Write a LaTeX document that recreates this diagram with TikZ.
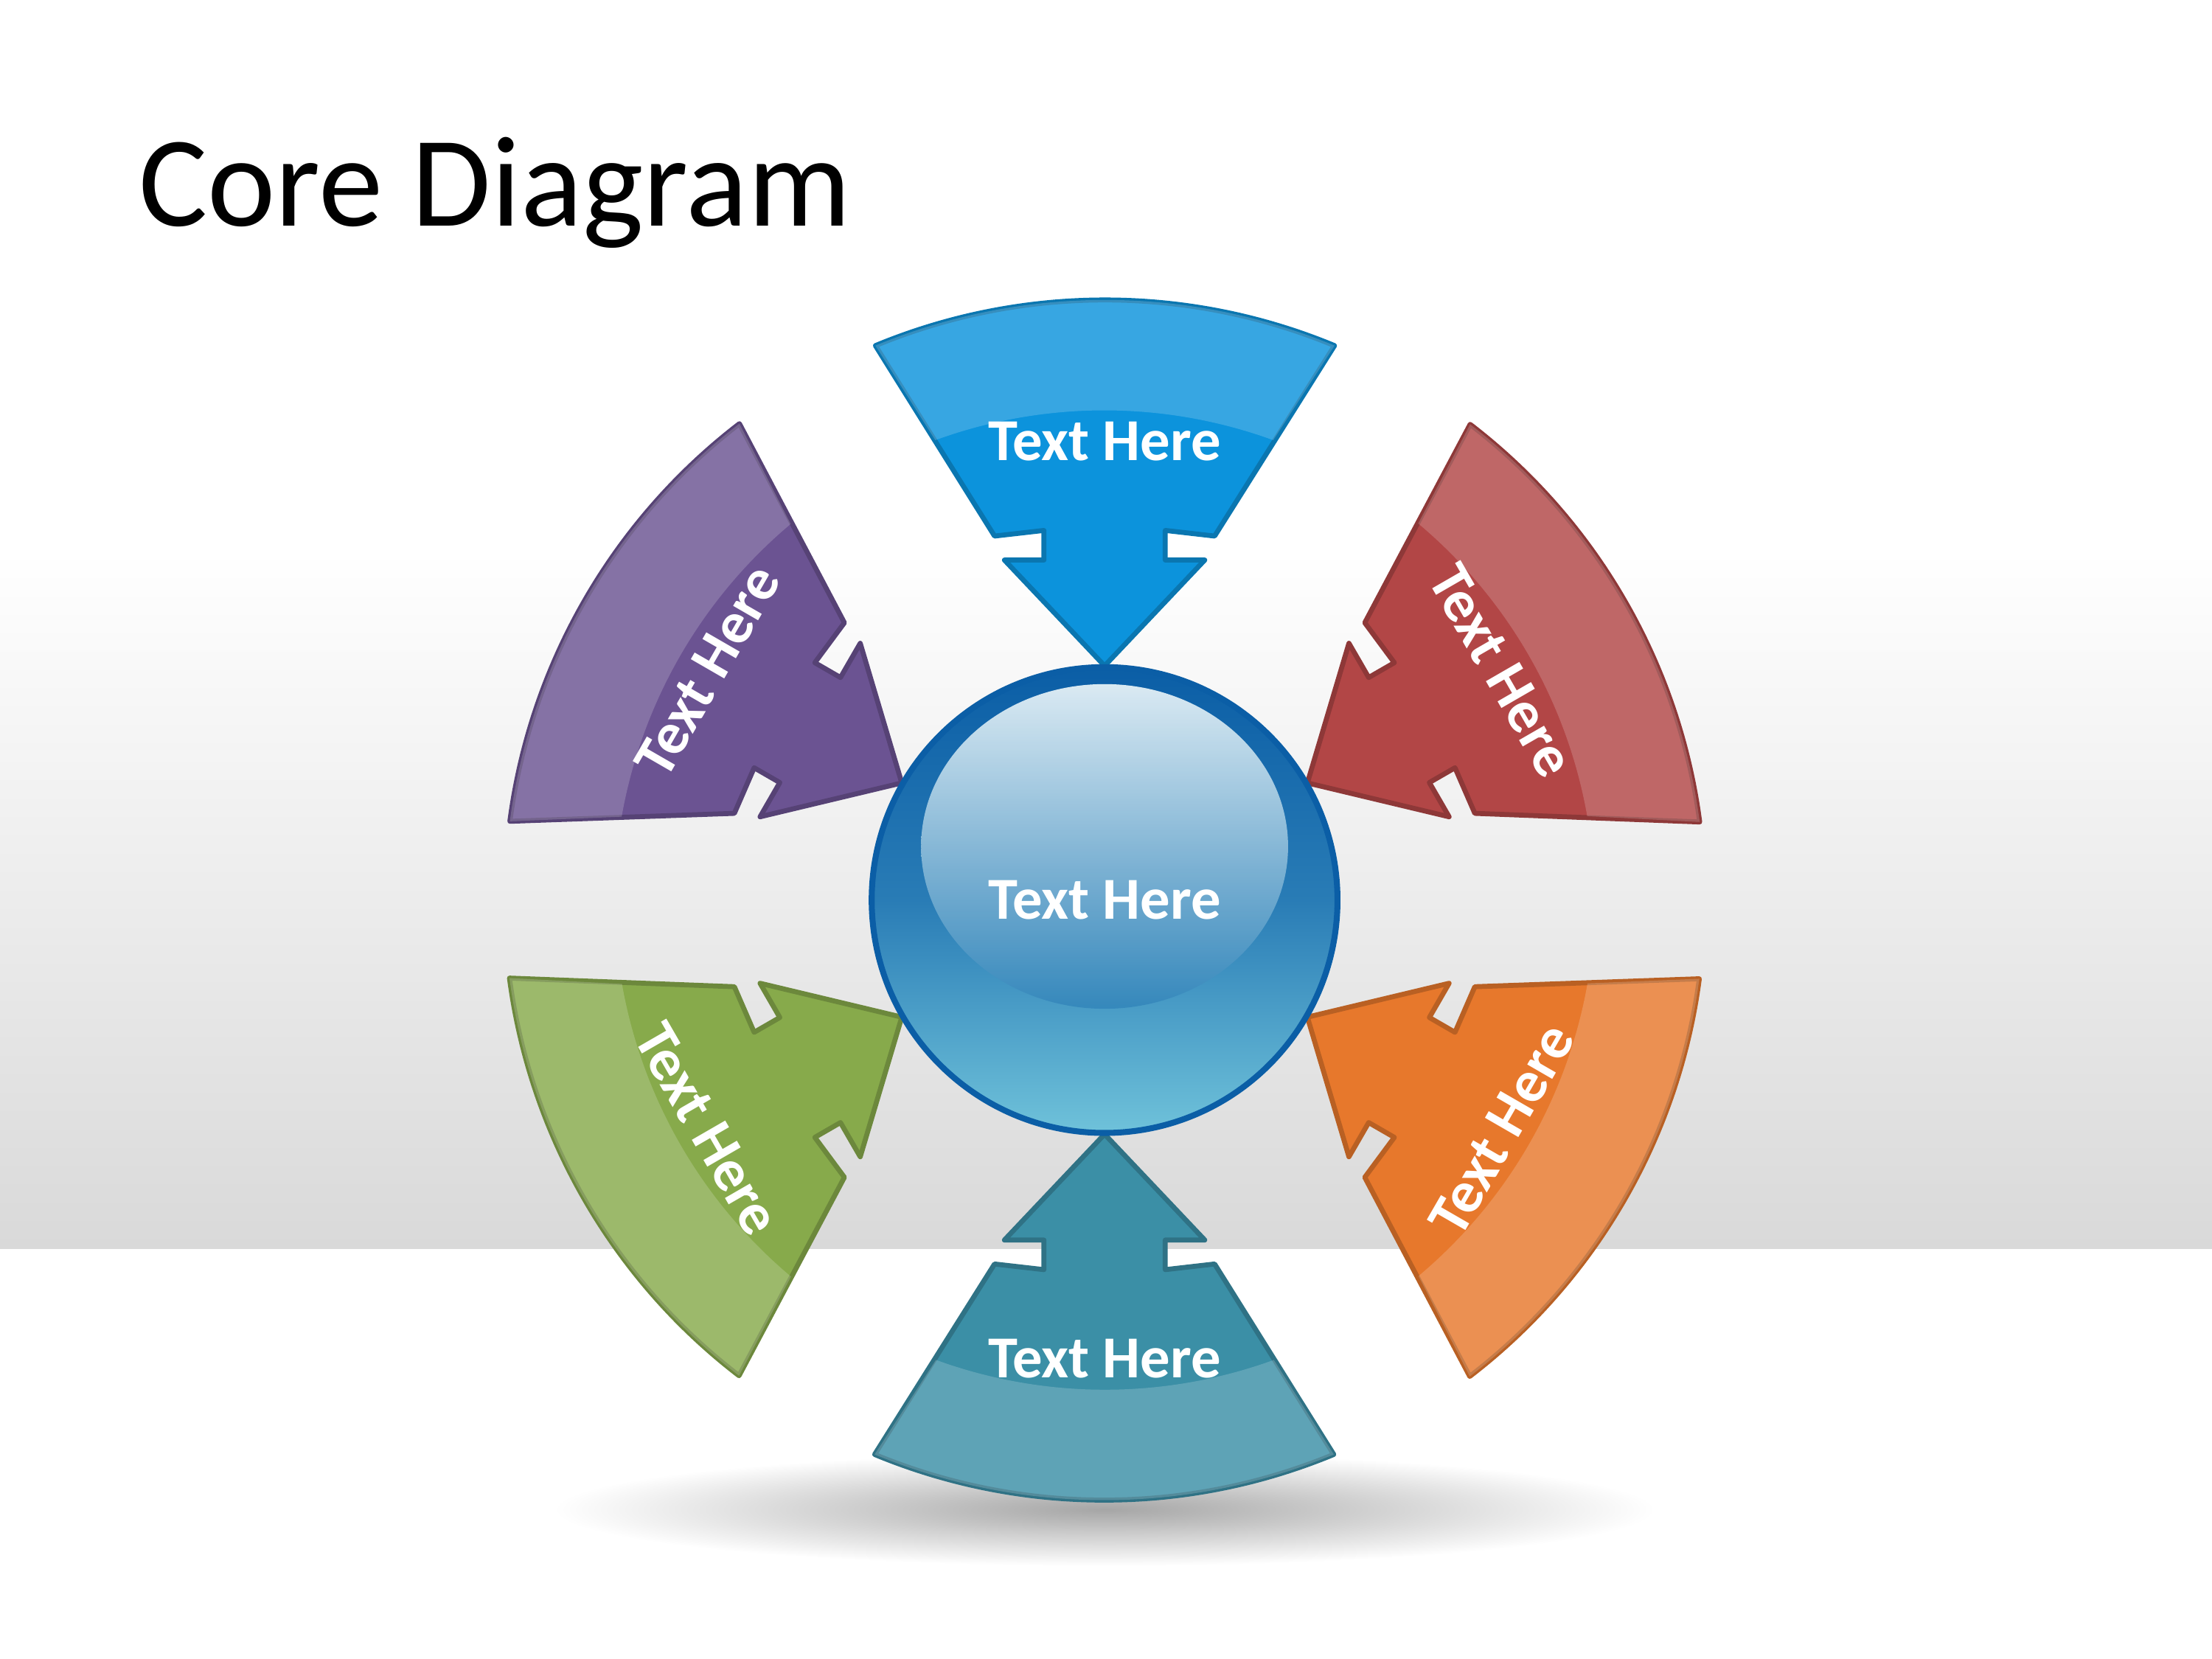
\documentclass[tikz,border=0pt]{standalone}
\usepackage{fontspec}
\setmainfont{Carlito}
\definecolor{bandgray}{HTML}{D9D9D9}
\definecolor{ptop}{HTML}{0C93DC}
\definecolor{pred}{HTML}{B24646}
\definecolor{porange}{HTML}{E7782C}
\definecolor{pbottom}{HTML}{3B8FA6}
\definecolor{pgreen}{HTML}{87AA4B}
\definecolor{ppurple}{HTML}{6B5392}
\definecolor{coredark}{HTML}{0B5EA6}
\definecolor{corelight}{HTML}{6FC2DA}
\newcommand\petalpath{(163,393) arc[start angle=67.5,end angle=112.5,radius=4.25cm]
 -- (-78,258) -- (-43,262) -- (-43,241) -- (-71,241) -- (0,166)
 -- (71,241) -- (43,241) -- (43,262) -- (78,258) -- cycle}
\tikzset{
 petalbox/.style={line width=1pt,line join=round},
 lbl/.style={text=white,inner sep=1pt,font=\fontsize{12}{14}\selectfont\bfseries}
}
\begin{document}
\begin{tikzpicture}[x=0.01cm,y=0.01cm]
 \useasboundingbox (0,0) rectangle (1568,-1176);
 % background band
 \fill[white] (0,0) rectangle (1568,-1176);
 \shade[top color=white,bottom color=bandgray] (0,-390) rectangle (1568,-885);
 \shade[inner color=black!35,outer color=white] (783,-1070) ellipse [x radius=3.9cm,y radius=0.4cm];
 \node[anchor=base west,font=\fontsize{26}{30}\selectfont] (title) at (86,-160) {Core Diagram};
 % petals
 \foreach \ang/\col/\trot/\nm in {90/ptop/0/top,30/pred/-60/red,-30/porange/60/orange,
   -90/pbottom/0/bottom,-150/pgreen/-60/green,150/ppurple/60/purple}{
  \begin{scope}[shift={(783,-638)},rotate=\ang-90]
   \fill[\col,draw=\col!80!black,petalbox] \petalpath;
   \fill[white,opacity=0.18] (163,393) arc[start angle=67.5,end angle=112.5,radius=4.25cm]
     -- (-120,326) arc[start angle=110,end angle=70,radius=3.5cm] -- cycle;
   \node[lbl,rotate=\trot] (p\nm) at (0,325) {Text Here};
  \end{scope}
 }
 % core
 \shade[top color=coredark,bottom color=corelight,middle color=coredark!70!corelight,draw=coredark,line width=1.2pt]
  (783,-638) circle [radius=1.65cm];
 \shade[top color=white!90!corelight,bottom color=coredark!60!corelight,opacity=0.9]
  (783,-600) ellipse [x radius=1.3cm,y radius=1.15cm];
 \node[lbl] (core) at (783,-638) {Text Here};
\end{tikzpicture}
\end{document}
